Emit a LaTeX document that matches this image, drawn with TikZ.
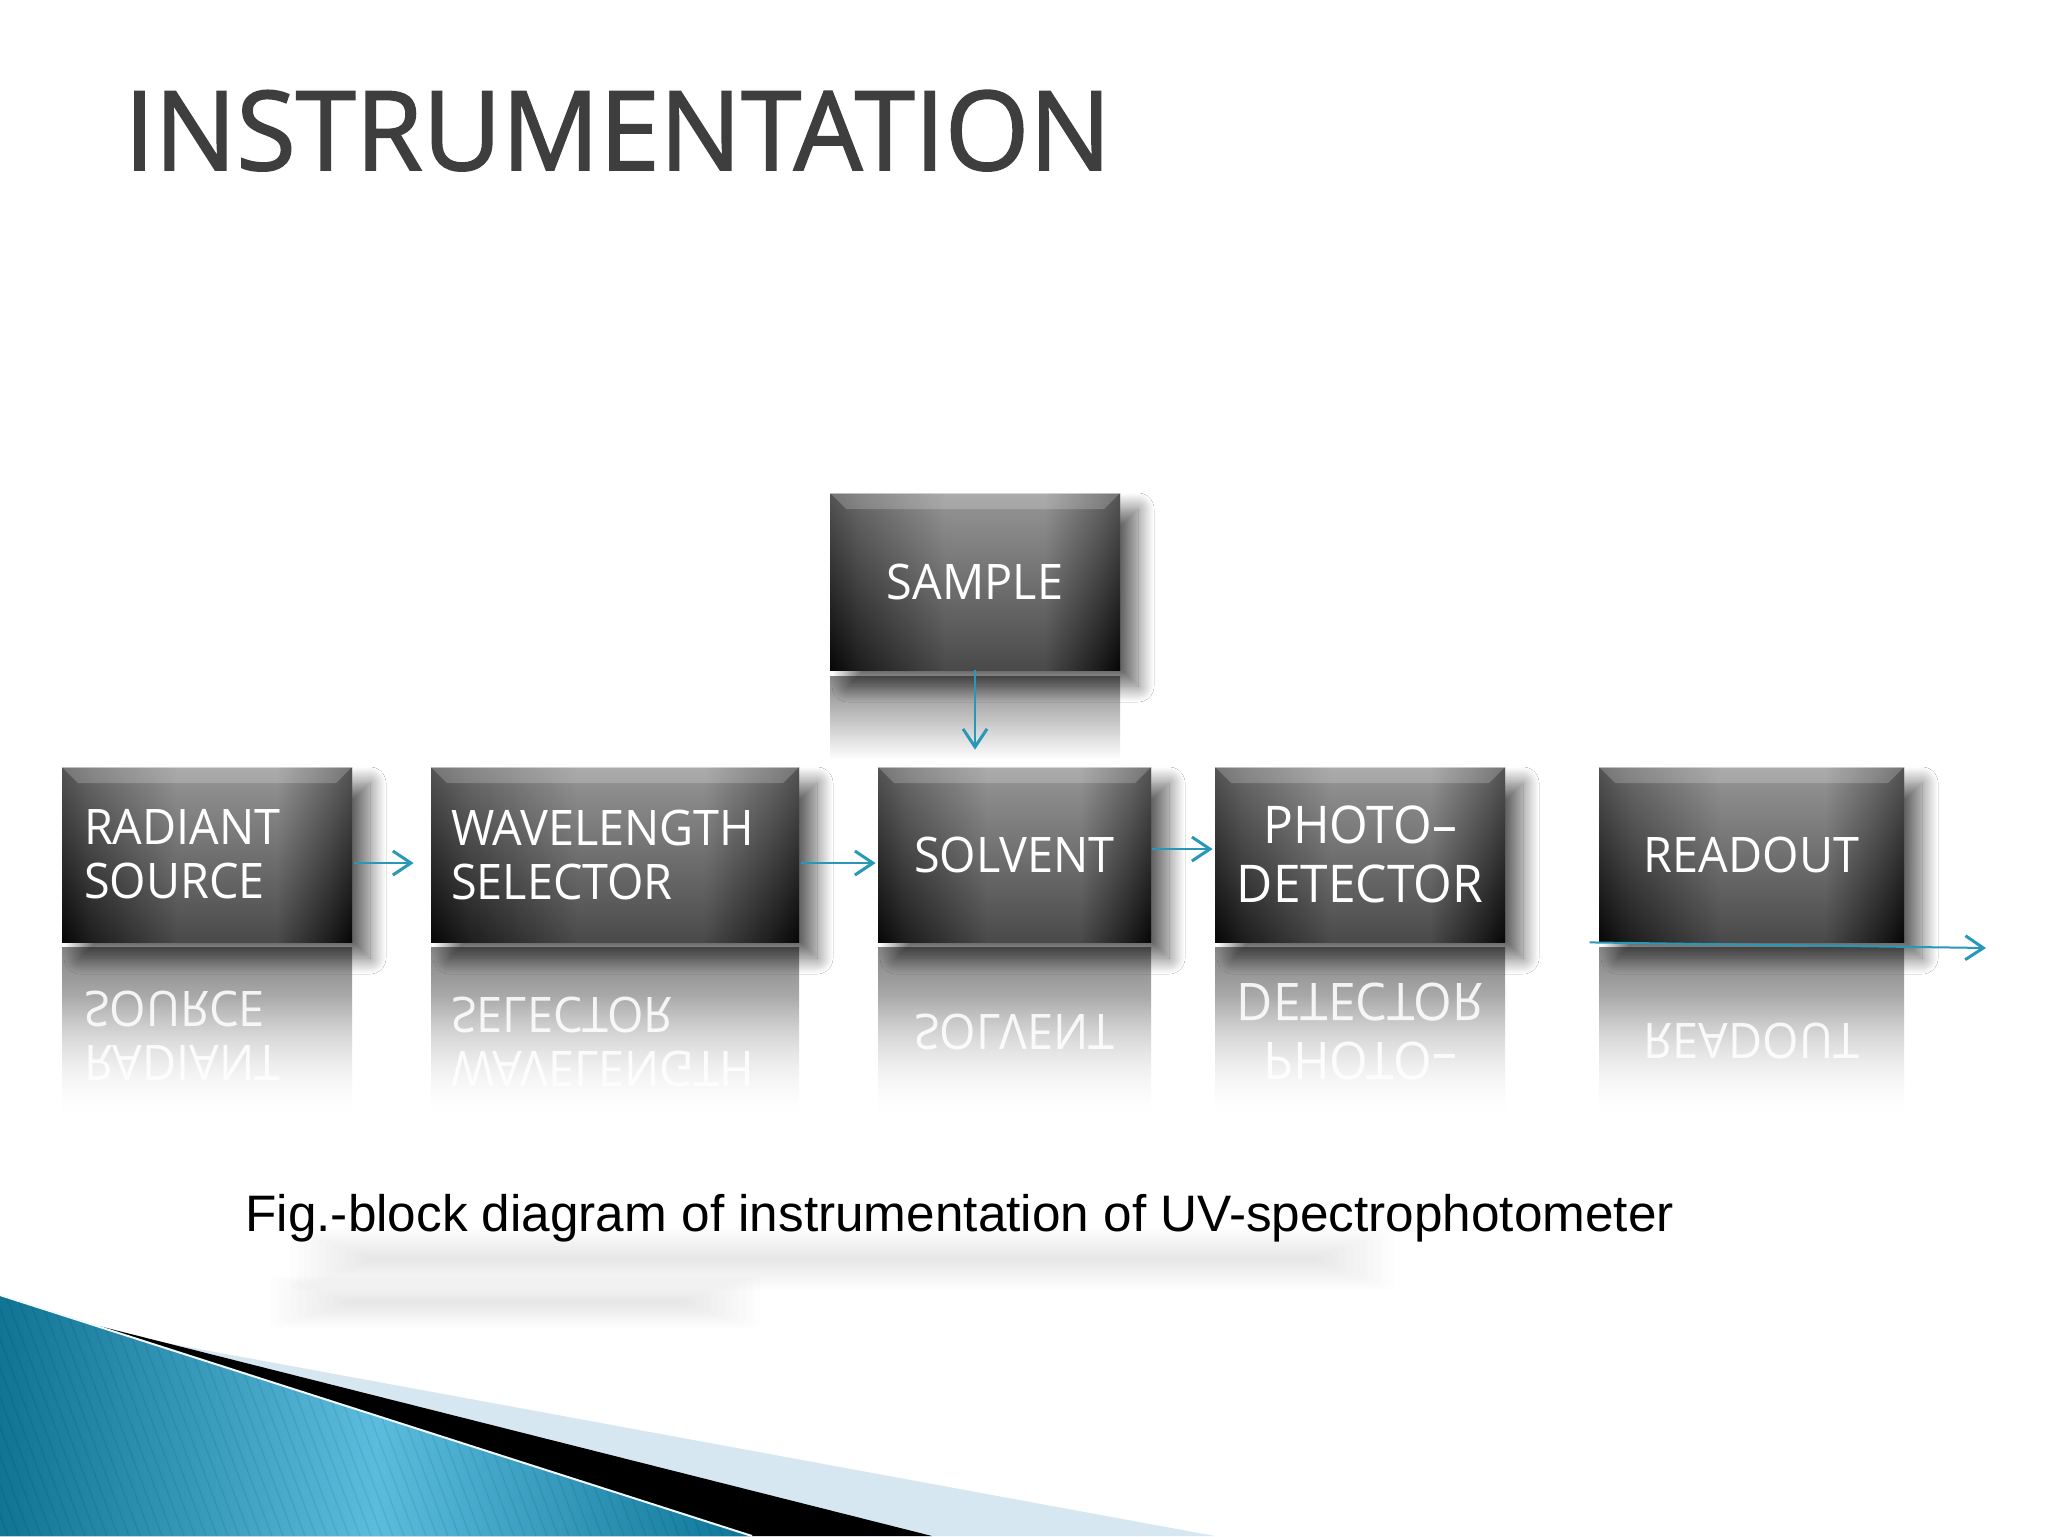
\documentclass[tikz,border=0pt]{standalone}
\usepackage{fontspec}
\usepackage{graphicx}
\setmainfont{Open Sans}
\newfontfamily\capfont{Liberation Sans}
\newfontfamily\titlefont{Open Sans}[FakeBold=1.6]
\usetikzlibrary{arrows.meta,fadings,shadows.blur}
\definecolor{arrowteal}{RGB}{40,152,185}
\definecolor{titlegray}{RGB}{62,62,62}
\definecolor{boxedge}{RGB}{10,10,10}
\definecolor{boxdark}{RGB}{42,42,42}
\definecolor{boxmid}{RGB}{106,106,106}
\definecolor{refgray}{RGB}{132,132,132}
\definecolor{tealdark}{RGB}{16,116,148}
\definecolor{teallight}{RGB}{92,188,222}
\definecolor{tealright}{RGB}{12,118,152}
\definecolor{paleblue}{RGB}{214,231,241}
\pgfdeclarehorizontalshading{boxsh}{100bp}{color(0bp)=(boxedge); color(25bp)=(boxedge); color(30bp)=(boxdark); color(45bp)=(boxmid); color(62bp)=(boxmid); color(71bp)=(boxdark); color(75bp)=(boxedge); color(100bp)=(boxedge)}
\newcommand{\sq}[1]{\scalebox{0.955}[1]{#1}}
\tikzset{
  blk/.style={shade, shading=boxsh, inner sep=0pt, minimum height=87.5pt,
    text=white, font=\fontsize{24.5}{27}\selectfont,
    blur shadow={shadow xshift=9pt, shadow yshift=-8pt, shadow blur radius=8pt, shadow blur steps=20, shadow opacity=60},
    path picture={
      \shade[top color=white, bottom color=black, fill opacity=0.3]
        (path picture bounding box.south west) rectangle (path picture bounding box.north east);
      \fill[white, fill opacity=0.2]
        (path picture bounding box.north west) -- (path picture bounding box.north east)
        -- ([xshift=-8pt,yshift=-8pt]path picture bounding box.north east)
        -- ([xshift=8pt,yshift=-8pt]path picture bounding box.north west) -- cycle;
      \draw[white, opacity=0.5, line width=0.8pt]
        (path picture bounding box.north west) -- (path picture bounding box.north east);
    }},
  reft/.style={inner sep=0pt, minimum height=87.5pt, text=white, text opacity=0.88,
    font=\fontsize{24.5}{27}\selectfont, yscale=-1, transform shape},
  refl/.style={top color=refgray, bottom color=white},
  fadeout/.style={fill=white, path fading=north},
  arr/.style={draw=arrowteal, line width=1pt,
    -{Straight Barb[length=9pt,width=12pt,line width=1.5pt]}},
}
\begin{document}
\begin{tikzpicture}[x=0.5pt,y=-0.5pt]
\useasboundingbox (0,0) rectangle (2048,1536);
\fill[white] (0,0) rectangle (2048,1536);

% title
\node[anchor=base west, inner sep=0pt, text=titlegray, font=\titlefont\fontsize{55}{60}\selectfont]
  (title) at (124,170) {\scalebox{0.985}[1]{INSTRUMENTATION}};

% caption and its faint blurred reflection
\foreach \i in {0,...,11} {
  \fill[black!60, fill opacity=0.01, rounded corners=3pt] (290+7*\i,1228+2.6*\i) rectangle (1395-7*\i,1290-2.6*\i);
  \fill[black!60, fill opacity=0.01, rounded corners=3pt] (270+7*\i,1276+2.2*\i) rectangle (760-7*\i,1328-2.2*\i);
}
\node[anchor=base west, inner sep=0pt, font=\capfont\fontsize{25.65}{30}\selectfont]
  (cap) at (245,1231) {Fig.-block diagram of instrumentation of UV-spectrophotometer};

% bottom decoration
\fill[paleblue] (150,1340) -- (1215,1536) -- (0,1536) -- cycle;
\fill[black] (95,1325) -- (932,1536) -- (0,1536) -- cycle;
\shade[left color=tealdark, right color=tealright, middle color=teallight]
  (0,1295) -- (752,1536) -- (0,1536) -- cycle;
\begin{scope}
  \clip (0,1295) -- (752,1536) -- (0,1536) -- cycle;
  \foreach \k in {-12,...,72} {
    \draw[black, opacity=0.07, line width=0.7pt] (\k*11,1280) -- ++(96,256);
  }
\end{scope}
\draw[white!70!paleblue, line width=1pt] (0,1295) -- (752,1536);

% reflections (drawn before boxes)
\shade[refl] (62,947) rectangle (352,1112);
\shade[refl] (431,947) rectangle (799,1112);
\shade[refl] (878,947) rectangle (1151,1112);
\shade[refl] (1215,947) rectangle (1505,1112);
\shade[refl] (1599,947) rectangle (1904,1112);
\shade[refl] (830,676) rectangle (1120,760);

% mirrored labels
\node[reft, minimum width=145pt, text width=123pt, inner xsep=11pt, align=left]
  (rs-m) at (207,1035.5) {\sq{RADIANT}\\\sq{SOURCE}};
\node[reft, minimum width=184pt, text width=164pt, inner xsep=10pt, align=left]
  (wl-m) at (615,1041.5) {\sq{WAVELENGTH}\\\sq{SELECTOR}};
\node[reft, minimum width=136.5pt, align=center]
  (sv-m) at (1014.5,1032.5) {\sq{SOLVENT}};
\node[reft, minimum width=145pt, align=center, font=\fontsize{26}{29.5}\selectfont]
  (pd-m) at (1360,1031.5) {\sq{PHOTO–}\\\sq{DETECTOR}};
\node[reft, minimum width=152.5pt, align=center]
  (rd-m) at (1751.5,1041.5) {\sq{READOUT}};

% fade reflections out towards the bottom
\fill[fadeout] (55,995) rectangle (360,1130);
\fill[fadeout] (425,995) rectangle (805,1130);
\fill[fadeout] (872,995) rectangle (1157,1130);
\fill[fadeout] (1209,995) rectangle (1511,1130);
\fill[fadeout] (1593,995) rectangle (1910,1130);

% boxes
\node[blk, minimum width=145pt, text width=123pt, inner xsep=11pt, align=left]
  (rs) at (207,854.5) {\sq{RADIANT}\\\sq{SOURCE}};
\node[blk, minimum width=184pt, text width=164pt, inner xsep=10pt, align=left]
  (wl) at (615,854.5) {\sq{WAVELENGTH}\\\sq{SELECTOR}};
\node[blk, minimum width=136.5pt, align=center]
  (sv) at (1014.5,854.5) {\sq{SOLVENT}};
\node[blk, minimum width=145pt, align=center, font=\fontsize{26}{29.5}\selectfont]
  (pd) at (1360,854.5) {\sq{PHOTO–}\\\sq{DETECTOR}};
\node[blk, minimum width=152.5pt, align=center]
  (rd) at (1751.5,854.5) {\sq{READOUT}};
\node[blk, minimum width=145pt, minimum height=88.5pt, align=center]
  (sp) at (975,581.5) {\sq{SAMPLE}};

% connectors
\coordinate (out) at (1986,948);
\draw[arr] ([xshift=1pt,yshift=-4.25pt]rs.east) -- ([xshift=-8.5pt,yshift=-4.25pt]wl.west);
\draw[arr] ([xshift=1pt,yshift=-4.25pt]wl.east) -- ([xshift=-1pt,yshift=-4.25pt]sv.west);
\draw[arr] ([xshift=0.5pt,yshift=2.75pt]sv.east) -- ([xshift=-1pt,yshift=2.75pt]pd.west);
\draw[arr] (sp.south) -- ([yshift=8.5pt]sp.south |- sv.north);
\draw[arr] ([xshift=-4.5pt]rd.south west) -- (out);
\end{tikzpicture}
\end{document}
